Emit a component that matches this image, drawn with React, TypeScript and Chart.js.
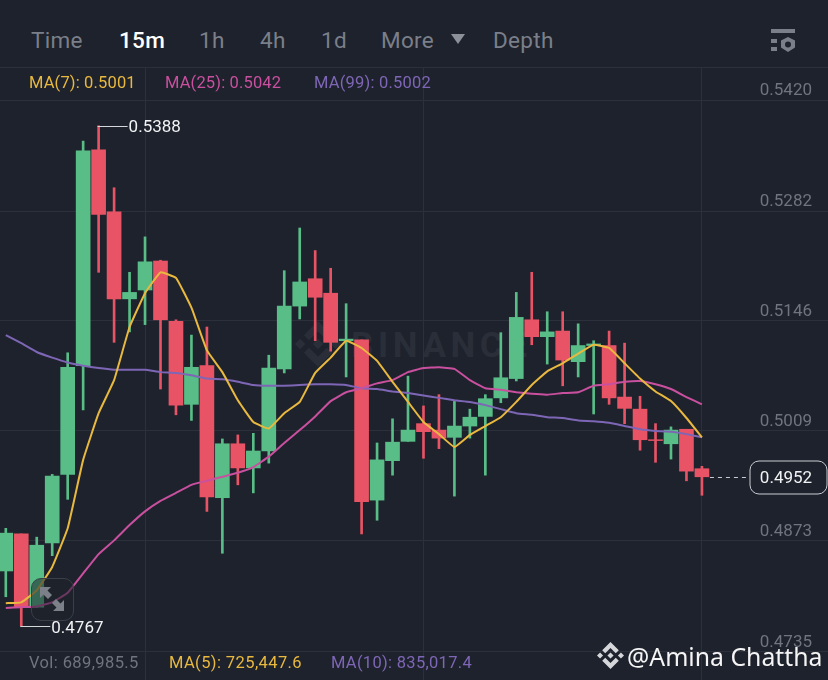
import React, { useEffect, useRef } from "react";
import { Chart, registerables } from "chart.js";

Chart.register(...registerables);

const opens = [0.4835,0.4881,0.4790,0.4870,0.4955,0.5090,0.5358,0.5281,0.5173,0.5184,0.5220,0.5145,0.5042,0.5090,0.4926,0.4993,0.4963,0.4984,0.5086,0.5164,0.5198,0.5180,0.5121,0.5122,0.4923,0.4972,0.4996,0.5018,0.5010,0.5001,0.5015,0.5027,0.5050,0.5074,0.5147,0.5126,0.5133,0.5095,0.5115,0.5115,0.5051,0.5036,0.4998,0.4993,0.5011,0.4962];
const closes = [0.4882,0.4790,0.4867,0.4953,0.5088,0.5357,0.5278,0.5173,0.5181,0.5219,0.5147,0.5041,0.5088,0.4927,0.4993,0.4963,0.4984,0.5087,0.5164,0.5194,0.5175,0.5119,0.5123,0.4921,0.4973,0.4995,0.5010,0.5008,0.5000,0.5015,0.5026,0.5049,0.5075,0.5150,0.5126,0.5132,0.5097,0.5115,0.5117,0.5050,0.5037,0.4998,0.4997,0.5010,0.4959,0.4952];
const highs = [0.4888,0.4881,0.4877,0.4955,0.5106,0.5369,0.5388,0.5311,0.5206,0.5250,0.5221,0.5147,0.5128,0.5138,0.4999,0.5004,0.5006,0.5103,0.5208,0.5261,0.5233,0.5211,0.5167,0.5122,0.4994,0.5024,0.5077,0.5040,0.5054,0.5047,0.5036,0.5054,0.5131,0.5181,0.5206,0.5157,0.5157,0.5142,0.5121,0.5133,0.5118,0.5052,0.5018,0.5014,0.5011,0.4965];
const lows = [0.4803,0.4767,0.4790,0.4854,0.4924,0.5035,0.5206,0.5119,0.5132,0.5141,0.5061,0.5029,0.5022,0.4909,0.4857,0.4942,0.4932,0.4969,0.5081,0.5148,0.5121,0.5108,0.5076,0.4881,0.4898,0.4954,0.4996,0.4975,0.4987,0.4928,0.5000,0.4954,0.5044,0.5071,0.5116,0.5092,0.5065,0.5076,0.5030,0.5042,0.5018,0.4985,0.4970,0.4974,0.4947,0.4929];
const ma7 = [0.4795,0.4796,0.4811,0.4840,0.4888,0.4973,0.5031,0.5072,0.5138,0.5180,0.5206,0.5199,0.5162,0.5109,0.5082,0.5047,0.5020,0.5012,0.5031,0.5045,0.5081,0.5100,0.5121,0.5112,0.5096,0.5070,0.5045,0.5020,0.5005,0.4989,0.5004,0.5015,0.5026,0.5045,0.5066,0.5083,0.5093,0.5105,0.5116,0.5112,0.5093,0.5074,0.5058,0.5046,0.5025,0.5001];
const ma25 = [0.4789,0.4790,0.4791,0.4796,0.4808,0.4832,0.4856,0.4873,0.4892,0.4909,0.4922,0.4932,0.4942,0.4947,0.4952,0.4957,0.4964,0.4977,0.4994,0.5010,0.5027,0.5046,0.5057,0.5062,0.5068,0.5072,0.5082,0.5087,0.5088,0.5086,0.5072,0.5062,0.5060,0.5057,0.5055,0.5054,0.5056,0.5057,0.5065,0.5067,0.5070,0.5071,0.5067,0.5061,0.5051,0.5042];
const ma99 = [0.5128,0.5118,0.5107,0.5100,0.5094,0.5090,0.5087,0.5085,0.5085,0.5085,0.5082,0.5081,0.5078,0.5074,0.5073,0.5070,0.5066,0.5065,0.5065,0.5066,0.5067,0.5067,0.5066,0.5062,0.5061,0.5058,0.5056,0.5053,0.5050,0.5047,0.5045,0.5041,0.5036,0.5031,0.5029,0.5026,0.5025,0.5022,0.5021,0.5019,0.5015,0.5011,0.5009,0.5008,0.5005,0.5001];
const priceTicks = [0.542, 0.5282, 0.5146, 0.5009, 0.4873, 0.4735];
const timeTicks = [9, 27, 45];
const periods = ["Time", "15m", "1h", "4h", "1d", "More", "Depth"];

const BG = "#1e222c";
const GRID = "#2c303a";
const GREEN = "#58bd87";
const RED = "#e85465";
const YELLOW = "#e9b93f";
const PINK = "#c9509f";
const PURPLE = "#7e66b6";
const MUTED = "#7a7f89";
const FONT = "Roboto, sans-serif";

const priceMarks = {
  id: "priceMarks",
  afterDatasetsDraw(chart: any) {
    const { ctx, scales } = chart;
    const { x, y } = scales;
    const hiIdx = highs.indexOf(Math.max(...highs));
    const loIdx = lows.indexOf(Math.min(...lows));
    const last = closes.length - 1;
    ctx.save();
    ctx.font = `17px ${FONT}`;
    ctx.textBaseline = "middle";
    ctx.textAlign = "left";
    const mark = (i: number, v: number, dy: number) => {
      const px = x.getPixelForValue(i);
      const py = Math.round(y.getPixelForValue(v)) + 0.5;
      ctx.strokeStyle = "#d5d7da";
      ctx.lineWidth = 1;
      ctx.beginPath();
      ctx.moveTo(px - 1, py);
      ctx.lineTo(px + 29, py);
      ctx.stroke();
      ctx.fillStyle = "#f2f3f4";
      ctx.fillText(v.toFixed(4), px + 30, py + dy);
    };
    mark(hiIdx, highs[hiIdx], 1);
    mark(loIdx, lows[loIdx], 2);

    const lx = x.getPixelForValue(last);
    const ly = Math.round(y.getPixelForValue(closes[last])) + 0.5;
    ctx.strokeStyle = "#c9ccd1";
    ctx.setLineDash([4, 4]);
    ctx.beginPath();
    ctx.moveTo(lx + 8, ly);
    ctx.lineTo(750, ly);
    ctx.stroke();
    ctx.setLineDash([]);
    ctx.fillStyle = BG;
    ctx.beginPath();
    ctx.roundRect(750, ly - 16.5, 77, 33, 9);
    ctx.fill();
    ctx.stroke();
    ctx.fillStyle = "#f2f3f4";
    ctx.textAlign = "center";
    ctx.fillText(closes[last].toFixed(4), 786, ly + 1);
    ctx.restore();
  },
};

const BinanceMark = ({ size, color, style }: any) => (
  <svg width={size} height={size} viewBox="0 0 126.61 126.61" style={{ position: "absolute", ...style }}>
    <g fill={color}>
      <path d="M38.73 53.2l24.59-24.58 24.6 24.6 14.3-14.31L63.32 0 24.43 38.9z" />
      <path d="M0 63.31l14.3-14.31 14.31 14.31-14.31 14.3z" />
      <path d="M38.73 73.41l24.59 24.59 24.6-24.6 14.31 14.29-38.9 38.91-38.91-38.88z" />
      <path d="M98 63.31l14.3-14.31 14.31 14.3-14.31 14.31z" />
      <path d="M77.83 63.3L63.32 48.78 52.59 59.51l-1.24 1.23-2.54 2.54 14.51 14.5 14.51-14.47z" />
    </g>
  </svg>
);

const Label = ({ x, y, size, color, weight, spacing, family, children }: any) => (
  <div
    style={{
      position: "absolute",
      left: x,
      top: y,
      transform: "translateY(-50%)",
      fontFamily: family || FONT,
      fontSize: size,
      fontWeight: weight || 400,
      letterSpacing: spacing || 0,
      color,
      whiteSpace: "nowrap",
      lineHeight: 1,
    }}
  >
    {children}
  </div>
);

export default function App() {
  const ref = useRef<HTMLCanvasElement>(null);
  useEffect(() => {
    const idx = opens.map((_, i) => i);
    const candleColors = opens.map((o, i) => (closes[i] >= o ? GREEN : RED));
    const line = (label: string, values: number[], color: string) => ({
      type: "line" as const,
      label,
      data: values.map((v, i) => ({ x: i, y: v })),
      borderColor: color,
      borderWidth: 2,
      pointRadius: 0,
      tension: 0.1,
      order: 0,
    });
    const chart = new Chart(ref.current as HTMLCanvasElement, {
      type: "bar",
      data: {
        datasets: [
          line("MA(7)", ma7, YELLOW),
          line("MA(25)", ma25, PINK),
          line("MA(99)", ma99, PURPLE),
          {
            label: "Body",
            data: idx.map((i) => ({ x: i, y: [opens[i], closes[i]] })),
            backgroundColor: candleColors,
            barThickness: 14,
            grouped: false,
            order: 1,
          },
          {
            label: "Wick",
            data: idx.map((i) => ({ x: i, y: [lows[i], highs[i]] })),
            backgroundColor: candleColors,
            barThickness: 2,
            grouped: false,
            order: 2,
          },
        ] as any,
      },
      options: {
        responsive: false,
        animation: false,
        maintainAspectRatio: false,
        layout: { padding: 0 },
        plugins: { legend: { display: false }, tooltip: { enabled: false } },
        scales: {
          x: {
            type: "linear",
            offset: false,
            min: -0.375,
            max: 53.15,
            grid: { color: GRID, lineWidth: 1, drawTicks: false, offset: false },
            border: { display: false },
            ticks: { display: false },
            afterBuildTicks: (s: any) => {
              s.ticks = timeTicks.map((value) => ({ value }));
            },
          },
          y: {
            position: "right",
            min: 0.469958,
            max: 0.545975,
            grid: { color: GRID, lineWidth: 1, drawTicks: false },
            border: { display: false },
            afterBuildTicks: (s: any) => {
              s.ticks = priceTicks.map((value) => ({ value }));
            },
            afterFit: (s: any) => {
              s.paddingTop = 0;
              s.paddingBottom = 0;
              s.width = 0;
            },
            ticks: {
              mirror: true,
              padding: -16,
              labelOffset: -9,
              color: "#6f747e",
              font: { family: "Roboto, sans-serif", size: 17 },
              callback: (v: any) => Number(v).toFixed(4),
            },
          },
        },
      } as any,
      plugins: [priceMarks],
    });
    return () => chart.destroy();
  }, []);

  const tabX = [31, 119, 199, 260, 321, 381, 493];
  return (
    <div style={{ position: "fixed", left: 0, top: 0, width: 828, height: 680, background: BG, overflow: "hidden" }}>
      {periods.map((p, i) => (
        <Label key={p} x={tabX[i]} y={40} size={22.5} spacing={0.3} color={p === "15m" ? "#ffffff" : MUTED} weight={p === "15m" ? 500 : 400}>
          {p}
        </Label>
      ))}
      <svg width={14} height={10} style={{ position: "absolute", left: 451, top: 34 }}>
        <path d="M0 0H14L7 10Z" fill="#8b9099" />
      </svg>
      <svg width={28} height={26} style={{ position: "absolute", left: 770, top: 28 }}>
        <rect x={1} y={1} width={24} height={4} fill={MUTED} />
        <rect x={1} y={11} width={6} height={4} fill={MUTED} />
        <rect x={1} y={19} width={6} height={4} fill={MUTED} />
        <path d="M18 9l7 3.5v7L18 24l-7-4.500v-7Z" fill={MUTED} />
        <circle cx={18} cy={16.500} r={3} fill={BG} />
      </svg>
      <div style={{ position: "absolute", left: 0, top: 67, width: 828, height: 1, background: GRID }} />
      <BinanceMark size={46} color="#2a2e38" style={{ left: 295, top: 321 }} />
      <Label x={351} y={345} size={35} weight={700} spacing={4.6} color="#2a2e38">BINANCE</Label>
      <canvas ref={ref} width={828} height={612} style={{ position: "absolute", left: 0, top: 68, width: 828, height: 612 }} />
      <Label x={29} y={83} size={16.500} spacing={0.15} color={YELLOW}>MA(7): 0.5001</Label>
      <Label x={165} y={83} size={16.500} spacing={0.15} color={PINK}>MA(25): 0.5042</Label>
      <Label x={314} y={83} size={16.500} spacing={0.2} color={PURPLE}>MA(99): 0.5002</Label>
      <Label x={29} y={663} size={16.500} spacing={0.4} color="#6f747e">Vol: 689,985.5</Label>
      <Label x={169} y={663} size={16.500} spacing={0.4} color={YELLOW}>MA(5): 725,447.6</Label>
      <Label x={331} y={663} size={16.500} spacing={0.3} color={PURPLE}>MA(10): 835,017.4</Label>
      <div style={{ position: "absolute", left: 31, top: 578, width: 41, height: 41, border: "1.5px solid #3a3f48", borderRadius: 10, background: "rgba(30,34,44,0.55)" }} />
      <svg width={44} height={44} style={{ position: "absolute", left: 30, top: 577 }}>
        <path d="M10 10h11l-3.500 3.500 4.500 4.500-4 4-4.500-4.500-3.500 3.500Z" fill="#7c8088" />
        <path d="M34 34h-11l3.500-3.500-4.500-4.500 4-4 4.500 4.500 3.500-3.500Z" fill="#7c8088" />
      </svg>
      <BinanceMark size={27} color="#d6d7da" style={{ left: 597, top: 642 }} />
      <Label x={627} y={656} size={24.8} family="'Noto Sans', sans-serif" color="#f5f5f5">@Amina Chattha</Label>
    </div>
  );
}
